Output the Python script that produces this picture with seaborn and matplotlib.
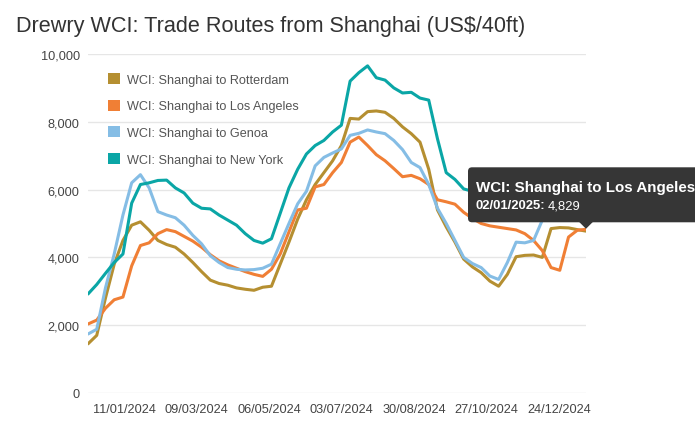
import numpy as np
import pandas as pd
import matplotlib
matplotlib.use("Agg")
import matplotlib.pyplot as plt
import matplotlib.dates as mdates
from matplotlib.patches import Patch, FancyBboxPatch, Polygon
from matplotlib.transforms import ScaledTranslation
import seaborn as sns

# ---------------- data (weekly) ----------------
dates = pd.date_range("2023-11-30", "2025-01-02", freq="7D")

rotterdam = [1450, 1700, 2800, 3800, 4500, 4950, 5050, 4800, 4500, 4380,
             4300, 4100, 3850, 3580, 3330, 3230, 3180, 3100, 3060, 3030,
             3120, 3150, 3800, 4450, 5130, 5700, 6150, 6500, 6850, 7300,
             8100, 8080, 8300, 8320, 8280, 8100, 7850, 7650, 7400, 6600,
             5400, 4900, 4450, 3950, 3720, 3550, 3300, 3150, 3500, 4020,
             4060, 4070, 4000, 4850, 4880, 4870, 4820, 4775]
los_angeles = [2035, 2150, 2500, 2750, 2830, 3750, 4350, 4430, 4700, 4820,
               4760, 4620, 4480, 4300, 4080, 3900, 3780, 3680, 3580, 3500,
               3440, 3650, 4100, 4750, 5400, 5450, 6080, 6150, 6500, 6800,
               7400, 7550, 7300, 7030, 6850, 6620, 6380, 6420, 6320, 6150,
               5700, 5640, 5570, 5330, 5150, 5000, 4930, 4890, 4850, 4810,
               4700, 4500, 4200, 3700, 3620, 4600, 4800, 4829]
genoa = [1740, 1880, 3100, 4100, 5250, 6200, 6440, 6050, 5350, 5250,
         5170, 4950, 4650, 4400, 4050, 3850, 3700, 3650, 3630, 3640,
         3680, 3800, 4400, 5000, 5580, 5950, 6700, 6950, 7080, 7200,
         7600, 7660, 7760, 7700, 7650, 7450, 7180, 6800, 6650, 6150,
         5450, 5000, 4500, 4000, 3820, 3700, 3450, 3350, 3850, 4450,
         4430, 4500, 5100, 5500, 5600, 5650, 5700, 5750]
new_york = [2920, 3200, 3530, 3850, 4100, 5600, 6150, 6200, 6270, 6280,
            6050, 5900, 5600, 5450, 5430, 5250, 5100, 4950, 4700, 4500,
            4420, 4550, 5300, 6050, 6600, 7050, 7300, 7450, 7700, 7900,
            9200, 9450, 9650, 9300, 9230, 9000, 8850, 8870, 8700, 8640,
            7500, 6500, 6300, 6020, 5950, 5950, 5900, 5850, 5800, 5750,
            5700, 5700, 5800, 6000, 6100, 6100, 6100, 6120]

series_names = ["WCI: Shanghai to Rotterdam", "WCI: Shanghai to Los Angeles",
                "WCI: Shanghai to Genoa", "WCI: Shanghai to New York"]
series_values = [rotterdam, los_angeles, genoa, new_york]
colors = ["#b58f31", "#f07f35", "#85bde5", "#0aa6a6"]

tick_dates = ["2024-01-11", "2024-03-09", "2024-05-06", "2024-07-03",
              "2024-08-30", "2024-10-27", "2024-12-24"]
y_ticks = [0, 2000, 4000, 6000, 8000, 10000]

title = "Drewry WCI: Trade Routes from Shanghai (US$/40ft)"
tooltip_series = "WCI: Shanghai to Los Angeles"
tooltip_date = "02/01/2025:"
tooltip_value = "4,829"

df = pd.concat([pd.DataFrame({"date": dates, "value": v, "series": n})
                for n, v in zip(series_names, series_values)], ignore_index=True)

# ---------------- figure ----------------
sns.set_theme(style="white")
plt.rcParams["font.family"] = ["Liberation Sans", "DejaVu Sans"]

W, H = 695, 431
fig = plt.figure(figsize=(W / 100, H / 100), dpi=100)
ax_l, ax_r, ax_t, ax_b = 88, 586, 55, 394
ax = fig.add_axes([ax_l / W, 1 - ax_b / H, (ax_r - ax_l) / W, (ax_b - ax_t) / H])

sns.lineplot(data=df, x="date", y="value", hue="series", hue_order=series_names,
             palette=colors, linewidth=2.2, ax=ax, legend=False, zorder=3)
for ln in ax.lines:
    ln.set_solid_joinstyle("round")

ax.set_xlim(dates[0], dates[-1])
ax.set_ylim(0, 10000)
ax.set_yticks(y_ticks)
ax.yaxis.set_major_formatter(matplotlib.ticker.FuncFormatter(lambda v, p: f"{int(v):,}"))
ax.set_xticks(pd.to_datetime(tick_dates))
ax.xaxis.set_major_formatter(mdates.DateFormatter("%d/%m/%Y"))
ax.set_xlabel("")
ax.set_ylabel("")
ax.grid(axis="y", color="#e6e6e6", linewidth=1.0)
ax.grid(axis="x", visible=False)
for s in ax.spines.values():
    s.set_visible(False)
ax.tick_params(axis="both", length=0, labelsize=9.2, colors="#444444")
ax.tick_params(axis="x", pad=7)
ax.tick_params(axis="y", pad=6)
offset = ScaledTranslation(-16 / 100, 0, fig.dpi_scale_trans)
for lab in ax.get_xticklabels():
    lab.set_transform(lab.get_transform() + offset)

fig.text(16 / W, 1 - 32 / H, title, fontsize=15.6, color="#333333",
         ha="left", va="baseline")

handles = [Patch(facecolor=c, edgecolor="none") for c in colors]
ax.legend(handles, series_names, loc="upper left",
          bbox_to_anchor=((108 - ax_l) / (ax_r - ax_l), (ax_b - 74) / (ax_b - ax_t)),
          frameon=False, fontsize=9.1, labelcolor="#555555",
          handlelength=0.95, handleheight=0.95, handletextpad=0.55,
          labelspacing=1.1, borderpad=0, borderaxespad=0)

# ---------------- tooltip anchored on last LA point ----------------
px, py = ax.transData.transform((mdates.date2num(dates[-1]), los_angeles[-1]))
box = FancyBboxPatch((px - 118, py + 7), 240, 55,
                     boxstyle="round,pad=0,rounding_size=4",
                     facecolor="#363636", edgecolor="none",
                     transform=None, zorder=10)
fig.patches.append(box)
tri = Polygon([(px - 7, py + 7.5), (px + 7, py + 7.5), (px, py + 0.5)], closed=True,
              facecolor="#363636", edgecolor="none", transform=None, zorder=10)
fig.patches.append(tri)
fig.text((px - 110) / W, (py + 38) / H, tooltip_series, fontsize=10.9,
         fontweight="bold", color="white", ha="left", va="baseline", zorder=11)
t2 = fig.text((px - 110) / W, (py + 21) / H, tooltip_date, fontsize=9.4,
              fontweight="bold", color="white", ha="left", va="baseline", zorder=11)
renderer = fig.canvas.get_renderer()
bb = t2.get_window_extent(renderer=renderer)
fig.text((bb.x1 + 2) / W, (py + 21) / H, tooltip_value, fontsize=9.4, color="white",
         ha="left", va="baseline", zorder=11)

fig.savefig("out.png", dpi=100)
